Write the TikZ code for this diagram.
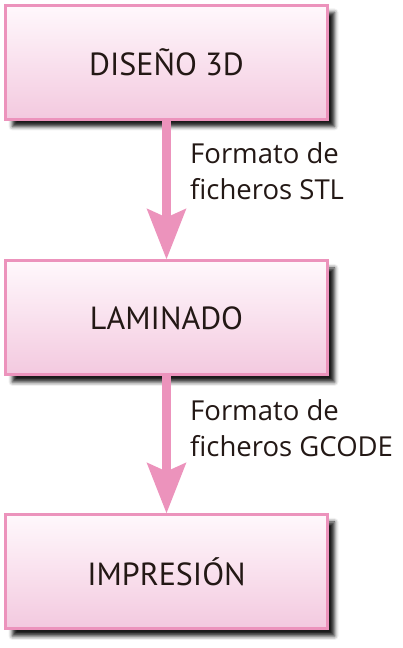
\documentclass[tikz,border=0pt]{standalone}
\usepackage{fontspec}
\setmainfont{PT Sans}
\newfontfamily\labelfont{Open Sans}
\usetikzlibrary{arrows.meta,shadows.blur}
\definecolor{pinkline}{HTML}{EC93BC}
\definecolor{pinktop}{HTML}{FFF8FC}
\definecolor{pinkbot}{HTML}{F3C9DF}
\definecolor{inkc}{HTML}{231815}
\tikzset{
  stagebox/.style={draw=pinkline, line width=3pt, top color=pinktop, bottom color=pinkbot,
    minimum width=322pt, minimum height=114pt, inner sep=0pt, text=inkc,
    font=\fontsize{32}{36}\selectfont,
    blur shadow={shadow xshift=7pt, shadow yshift=-7pt, shadow blur radius=4pt, shadow opacity=90}},
  flowarrow/.style={draw=pinkline, line width=9pt,
    -{Stealth[length=50pt,width=38pt,inset=8pt]}},
  fmtlabel/.style={anchor=base west, align=left, inner sep=0pt, text=inkc,
    font=\labelfont\fontsize{27.5}{36}\selectfont}
}
\begin{document}
\begin{tikzpicture}[x=1pt,y=1pt]
\useasboundingbox (0,0) rectangle (403,648);
\node[stagebox] (b1) at (166.5,585.5) {DISEÑO 3D};
\node[stagebox] (b2) at (166.5,330) {LAMINADO};
\node[stagebox] (b3) at (166.5,76) {IMPRESIÓN};
\draw[flowarrow] (b1.south) -- (b2.north);
\draw[flowarrow] (b2.south) -- (b3.north);
\node[fmtlabel] (l1) at (190,448) {Formato de\\ficheros STL};
\node[fmtlabel] (l2) at (190,191) {Formato de\\ficheros GCODE};
\end{tikzpicture}
\end{document}
